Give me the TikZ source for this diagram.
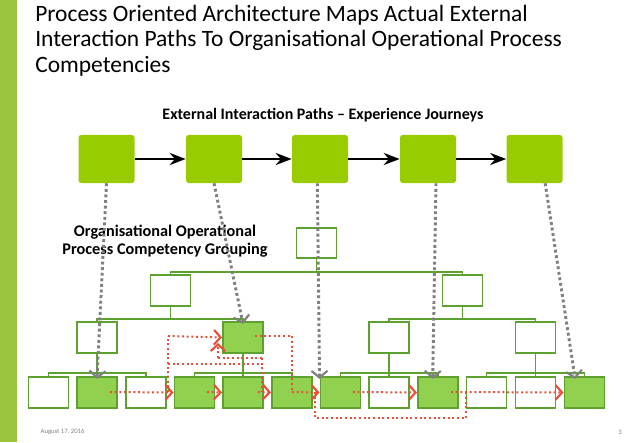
\documentclass[tikz,border=0pt]{standalone}
\usepackage{fontspec}
\setmainfont{Carlito}
\usetikzlibrary{arrows.meta}
\definecolor{leaf}{HTML}{99CC00}
\definecolor{grp}{HTML}{92D050}
\definecolor{edge}{HTML}{5DA130}
\definecolor{bar}{HTML}{9BC53D}
\definecolor{flow}{HTML}{E8503A}

\tikzset{
	journey/.style={rectangle,rounded corners=2pt,fill=leaf,minimum width=42pt,minimum height=36pt,inner sep=0pt},
	unit/.style={rectangle,draw=edge,line width=1.4pt,fill=white,minimum width=30pt,minimum height=23pt,inner sep=0pt},
	active/.style={unit,fill=grp},
	tree/.style={draw=edge,line width=1.4pt},
	map/.style={gray,dotted,line width=2.2pt,-{Straight Barb[length=5pt,width=12pt,line width=1.6pt]}},
	flowline/.style={flow,dotted,line width=1.5pt},
	flowarrow/.style={flowline,-{Straight Barb[length=5pt,width=11pt,line width=1.6pt]}}
}

\begin{document}
\begin{tikzpicture}[x=0.75pt,y=-0.75pt,>=Stealth]
	\useasboundingbox (0,0) rectangle (638,442);
	\fill[bar] (0,0) rectangle (17,442);
	\node[anchor=north west,align=left,font=\fontsize{17.6}{19}\selectfont,inner sep=0pt] (title) at (35,5)
		{Process Oriented Architecture Maps Actual External\\Interaction Paths To Organisational Operational Process\\Competencies};
	\node[font=\bfseries\fontsize{12}{14}\selectfont] (paths) at (323,115) {External Interaction Paths -- Experience Journeys};
	\node[font=\bfseries\fontsize{12.2}{14}\selectfont,align=center] (grouping) at (165,241)
		{Organisational Operational\\Process Competency Grouping};
	% journeys
	\foreach \n/\x in {1/106.5,2/214,3/320,4/428,5/534.5}
		\node[journey] (j\n) at (\x,159) {};
	\foreach \a/\b in {1/2,2/3,3/4,4/5}
		\draw[->,line width=2pt] (j\a) -- (j\b);
	% competency tree
	\node[unit] (root) at (316.5,243) {};
	\node[unit] (g1) at (170.5,290.5) {};
	\node[unit] (g2) at (462.5,290.5) {};
	\foreach \n/\x/\s in {1/97/unit,2/243/active,3/389/unit,4/535.5/unit}
		\node[\s] (s\n) at (\x,337.5) {};
	\foreach \n/\x/\s in {1/48.5/unit,2/97/active,3/146/unit,4/194.5/active,5/243/active,6/292/active,
			7/340.5/active,8/389/unit,9/438/active,10/486.5/unit,11/535.5/unit,12/584.5/active}
		\node[\s] (p\n) at (\x,392.5) {};
	\draw[tree] (root.south) -- ++(0,13) -| (g1.north);
	\draw[tree] (root.south) ++(0,13) -| (g2.north);
	\draw[tree] (g1.south) -- ++(0,12) -| (s1.north);
	\draw[tree] (g1.south) ++(0,12) -| (s2.north);
	\draw[tree] (g2.south) -- ++(0,12) -| (s3.north);
	\draw[tree] (g2.south) ++(0,12) -| (s4.north);
	\foreach \s/\a/\b/\c in {1/1/2/3,2/4/5/6,3/7/8/9,4/10/11/12} {
		\draw[tree] (s\s.south) -- (p\b.north);
		\draw[tree] (p\a.north) -- ++(0,-3) -| (p\c.north);
	}
	% mapping of journeys onto competencies
	\draw[map] (j1.south) -- ([yshift=-2pt]p2.north);
	\draw[map] (j2.south) -- ([yshift=-2pt]s2.north);
	\draw[map] ([xshift=-2pt]j3.south) -- ([yshift=-2pt]p7.north west);
	\draw[map] ([xshift=6pt]j4.south) -- ([xshift=-4pt,yshift=-2pt]p9.north);
	\draw[map] ([xshift=8pt]j5.south) -- ([xshift=-7pt,yshift=-2pt]p12.north);
	% operational flows
	\draw[flowarrow] (110,392) -- (p4.west);
	\draw[flowline] (168,392) -- (168,336);
	\draw[flowarrow] (168,336) -- (s2.west);
	\draw[flowline] (168,364) -- (265,364);
	\draw[flowline] (218,358) -- (262,358);
	\draw[flowarrow] (218,358) -- (218,343);
	\draw[flowline] (262,358) -- (262,392);
	\draw[flowarrow] (207,392) -- (p5.west);
	\draw[flowarrow] (258,392) -- (p6.west);
	\draw[flowline] (255,336) -- (292,336) -- (292,392);
	\draw[flowarrow] (292,392) -- (p7.west);
	\draw[flowline] (315,392) -- (315,418) -- (466,418) -- (466,392);
	\draw[flowarrow] (353,392) -- (p9.west);
	\draw[flowarrow] (451,392) -- (p12.west);
	% footer
	\node[gray,font=\fontsize{5}{6}\selectfont,anchor=west] (date) at (36,432) {August 17, 2016};
	\node[gray,font=\fontsize{5}{6}\selectfont] (page) at (620,432) {3};
\end{tikzpicture}
\end{document}
